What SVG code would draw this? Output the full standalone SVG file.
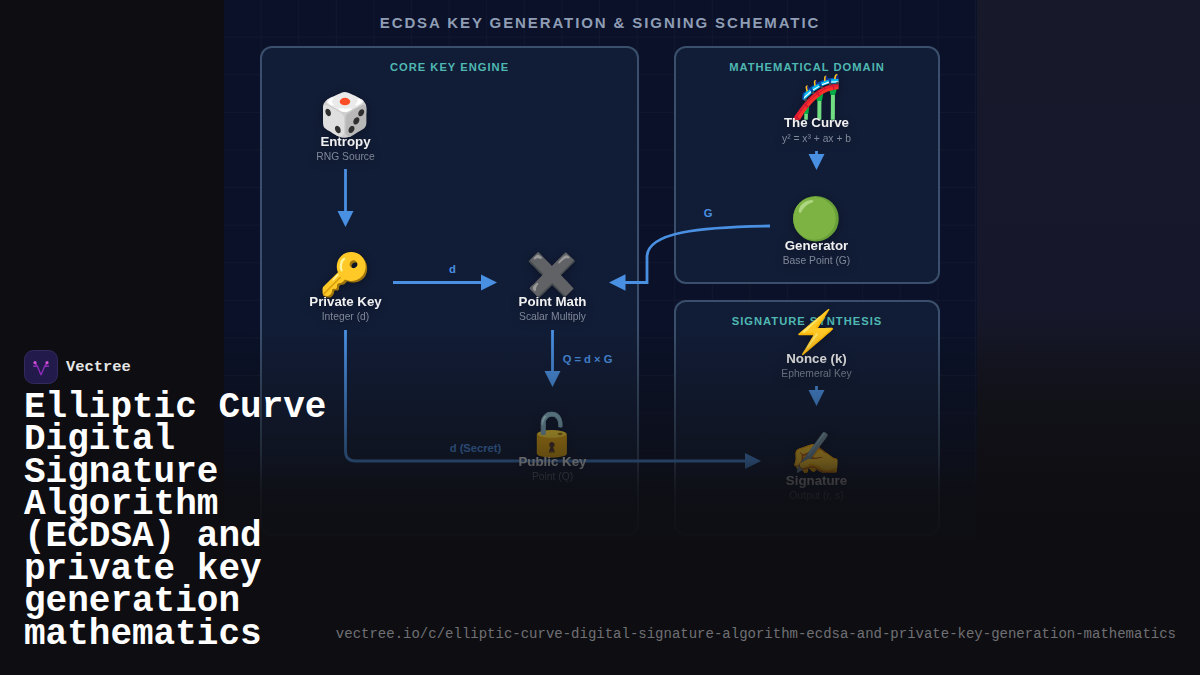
<svg xmlns="http://www.w3.org/2000/svg" width="1200" height="675" viewBox="0 0 1200 675">
<defs>
<marker id="ah" markerUnits="userSpaceOnUse" markerWidth="18" markerHeight="18" refX="1" refY="8.25" orient="auto"><path d="M0 0L16.500 8.250L0 16.500Z" fill="#4a90e2"/></marker>
<pattern id="grid" width="37.6" height="37.6" patternUnits="userSpaceOnUse" x="224" y="0"><path d="M37.600 0V37.600H0" fill="none" stroke="#fff" stroke-opacity=".05"/></pattern>
<linearGradient id="fade" gradientUnits="userSpaceOnUse" x1="0" y1="330" x2="0" y2="540"><stop offset="0" stop-color="#0e0e12" stop-opacity="0"/><stop offset=".133" stop-color="#0e0e12" stop-opacity=".14"/><stop offset=".624" stop-color="#0e0e12" stop-opacity=".62"/><stop offset=".714" stop-color="#0e0e12" stop-opacity=".8"/><stop offset=".79" stop-color="#0e0e12" stop-opacity=".88"/><stop offset="1" stop-color="#0e0e12" stop-opacity=".96"/></linearGradient>
<linearGradient id="right" gradientUnits="userSpaceOnUse" x1="0" y1="0" x2="0" y2="540"><stop offset="0" stop-color="#18182b"/><stop offset=".55" stop-color="#16172b"/><stop offset=".75" stop-color="#13131c"/><stop offset="1" stop-color="#0e0e12"/></linearGradient>
</defs>
<style>
text{font-family:"Liberation Sans",Arial,sans-serif}
.panel{fill:#111c36;stroke:#3a4f6b;stroke-width:2}
.ptitle{font-size:11.2px;font-weight:700;fill:#4fb8b2;letter-spacing:1px;text-anchor:middle}
.emoji{font-size:41.500px;text-anchor:middle;font-family:"Noto Color Emoji",sans-serif}
.name{font-size:13.300px;font-weight:700;fill:#f0f0f0;text-anchor:middle}
.sub{font-size:10.300px;fill:#7f8798;text-anchor:middle}
.lab{font-size:11.200px;font-weight:700;fill:#4a90e2;text-anchor:middle}
.edge{fill:none;stroke:#4a90e2;stroke-width:2.800;marker-end:url(#ah)}
.node{filter:drop-shadow(0 2px 4px rgba(0,0,0,.3))}
.mono{font-family:"Liberation Mono",monospace}
</style>
<rect width="1200" height="675" fill="#0e0e12"/>
<rect x="977" width="223" height="540" fill="url(#right)"/>
<g id="background">
<rect x="224" width="753" height="675" fill="#0a1128"/>
<rect x="224" width="753" height="675" fill="url(#grid)"/>
</g>
<text x="600" y="28" text-anchor="middle" font-size="15" font-weight="700" letter-spacing="1.9" fill="#8f9db5">ECDSA KEY GENERATION &amp; SIGNING SCHEMATIC</text>
<g id="panels">
<rect class="panel" x="261" y="47" width="377" height="488" rx="11"/>
<text class="ptitle" x="449.500" y="71">CORE KEY ENGINE</text>
<rect class="panel" x="675" y="47" width="264" height="236" rx="11"/>
<text class="ptitle" x="807" y="71">MATHEMATICAL DOMAIN</text>
<rect class="panel" x="675" y="301" width="264" height="234" rx="11"/>
<text class="ptitle" x="807" y="325">SIGNATURE SYNTHESIS</text>
</g>
<g id="connectors">
<path class="edge" d="M345.500 169V211.500"/>
<path class="edge" d="M393 282.500H481.500"/>
<path class="edge" d="M552.500 330V371.500"/>
<path class="edge" d="M816.500 151V154.500"/>
<path class="edge" d="M816.500 386V390.500"/>
<path class="edge" d="M770 226C700 227 647 232 647 257V282.500H624.500"/>
<path class="edge" d="M345.500 330V451Q345.500 461 355.500 461H745.500"/>
<text class="lab" x="452.500" y="273">d</text>
<text class="lab" x="587.500" y="363">Q = d × G</text>
<text class="lab" x="708" y="217">G</text>
<text class="lab" x="475.500" y="452">d (Secret)</text>
</g>
<g id="entropy" class="node"><text class="emoji" x="345.500" y="129">🎲</text><text class="name" x="345.500" y="146">Entropy</text><text class="sub" x="345.500" y="160">RNG Source</text></g>
<g id="private-key" class="node"><text class="emoji" x="345.500" y="289">🔑</text><text class="name" x="345.500" y="306">Private Key</text><text class="sub" x="345.500" y="320">Integer (d)</text></g>
<g id="point-math" class="node"><text class="emoji" x="552.500" y="289">✖️</text><text class="name" x="552.500" y="306">Point Math</text><text class="sub" x="552.500" y="320">Scalar Multiply</text></g>
<g id="public-key" class="node"><text class="emoji" x="552.500" y="449">🔓</text><text class="name" x="552.500" y="466">Public Key</text><text class="sub" x="552.500" y="480">Point (Q)</text></g>
<g id="curve" class="node"><text class="emoji" x="816.500" y="111">🎢</text><text class="name" x="816.500" y="127">The Curve</text><text class="sub" x="816.500" y="142">y² = x³ + ax + b</text></g>
<g id="generator" class="node"><text class="emoji" x="816.500" y="233">🟢</text><text class="name" x="816.500" y="250">Generator</text><text class="sub" x="816.500" y="264">Base Point (G)</text></g>
<g id="nonce" class="node"><text class="emoji" x="816.500" y="346">⚡</text><text class="name" x="816.500" y="363">Nonce (k)</text><text class="sub" x="816.500" y="377">Ephemeral Key</text></g>
<g id="signature" class="node"><text class="emoji" x="816.500" y="468">✍️</text><text class="name" x="816.500" y="485">Signature</text><text class="sub" x="816.500" y="499">Output (r, s)</text></g>
<rect id="fade-overlay" y="330" width="1200" height="210" fill="url(#fade)"/>
<rect y="540" width="1200" height="135" fill="#0e0e12"/>
<g id="brand">
<rect x="24.500" y="350.500" width="33" height="33" rx="9" fill="#221a4a" stroke="#332a5e"/>
<path d="M41 375L37.500 366.500L35 363M37.500 366.500L33 366M41 375L44.500 366.500L47 363M44.500 366.500L49 366" fill="none" stroke="#8e2bb8" stroke-width="1.400"/>
<circle cx="35" cy="362.700" r="1.600" fill="#d050d0"/><circle cx="47" cy="362.700" r="1.600" fill="#d050d0"/>
<text class="mono" x="66" y="371" font-size="15.400" font-weight="700" fill="#e6e6e6">Vectree</text>
</g>
<g id="headline" font-size="36" font-weight="700" fill="#fff">
<text class="mono" x="24" y="417">Elliptic Curve</text>
<text class="mono" x="24" y="449">Digital</text>
<text class="mono" x="24" y="481.500">Signature</text>
<text class="mono" x="24" y="514">Algorithm</text>
<text class="mono" x="24" y="546">(ECDSA) and</text>
<text class="mono" x="24" y="578.500">private key</text>
<text class="mono" x="24" y="611">generation</text>
<text class="mono" x="24" y="643.500">mathematics</text>
</g>
<text class="mono" x="1176" y="638" text-anchor="end" font-size="14" fill="#707074">vectree.io/c/elliptic-curve-digital-signature-algorithm-ecdsa-and-private-key-generation-mathematics</text>
</svg>
